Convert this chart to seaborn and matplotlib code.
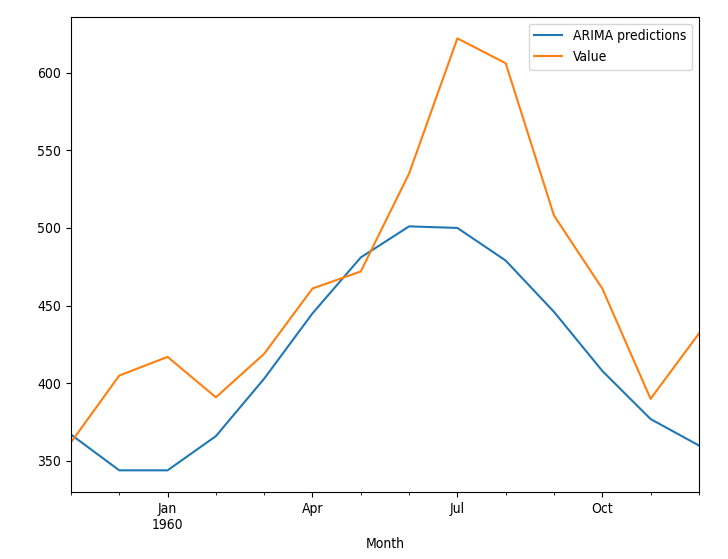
import matplotlib
matplotlib.use("Agg")
import matplotlib.pyplot as plt
import seaborn as sns
import pandas as pd
from matplotlib.ticker import FixedLocator

months = ["1959-11", "1959-12", "1960-01", "1960-02", "1960-03", "1960-04", "1960-05",
          "1960-06", "1960-07", "1960-08", "1960-09", "1960-10", "1960-11", "1960-12"]
arima_pred = [367, 344, 344, 366, 403, 445, 481, 501, 500, 479, 446, 408, 377, 360]
value = [362, 405, 417, 391, 419, 461, 472, 535, 622, 606, 508, 461, 390, 432]
major_labels = {"1960-01": "Jan\n1960", "1960-04": "Apr", "1960-07": "Jul", "1960-10": "Oct"}

plt.rcParams["font.family"] = ["DejaVu Sans"]
plt.rcParams["font.stretch"] = "condensed"

idx = list(range(len(months)))
df = pd.DataFrame({"Month": idx, "ARIMA predictions": arima_pred, "Value": value})
long = df.melt(id_vars="Month", var_name="series", value_name="y")

fig, ax = plt.subplots(figsize=(7.28, 5.59), dpi=100)
sns.lineplot(data=long, x="Month", y="y", hue="series", ax=ax,
             palette=["#1f77b4", "#ff7f0e"], linewidth=1.5)
ax.set_xlim(idx[0], idx[-1])
major_pos = [months.index(m) for m in major_labels]
ax.xaxis.set_major_locator(FixedLocator(major_pos))
ax.set_xticklabels(list(major_labels.values()))
ax.xaxis.set_minor_locator(FixedLocator(idx))
ax.tick_params(axis="x", which="minor", length=2)
ax.set_ylabel("")
ax.set_xlabel("Month")
ax.legend(title=None, loc="upper right")
fig.subplots_adjust(left=0.0975, right=0.96, top=0.97, bottom=0.12)
fig.savefig("out.png", dpi=100)
